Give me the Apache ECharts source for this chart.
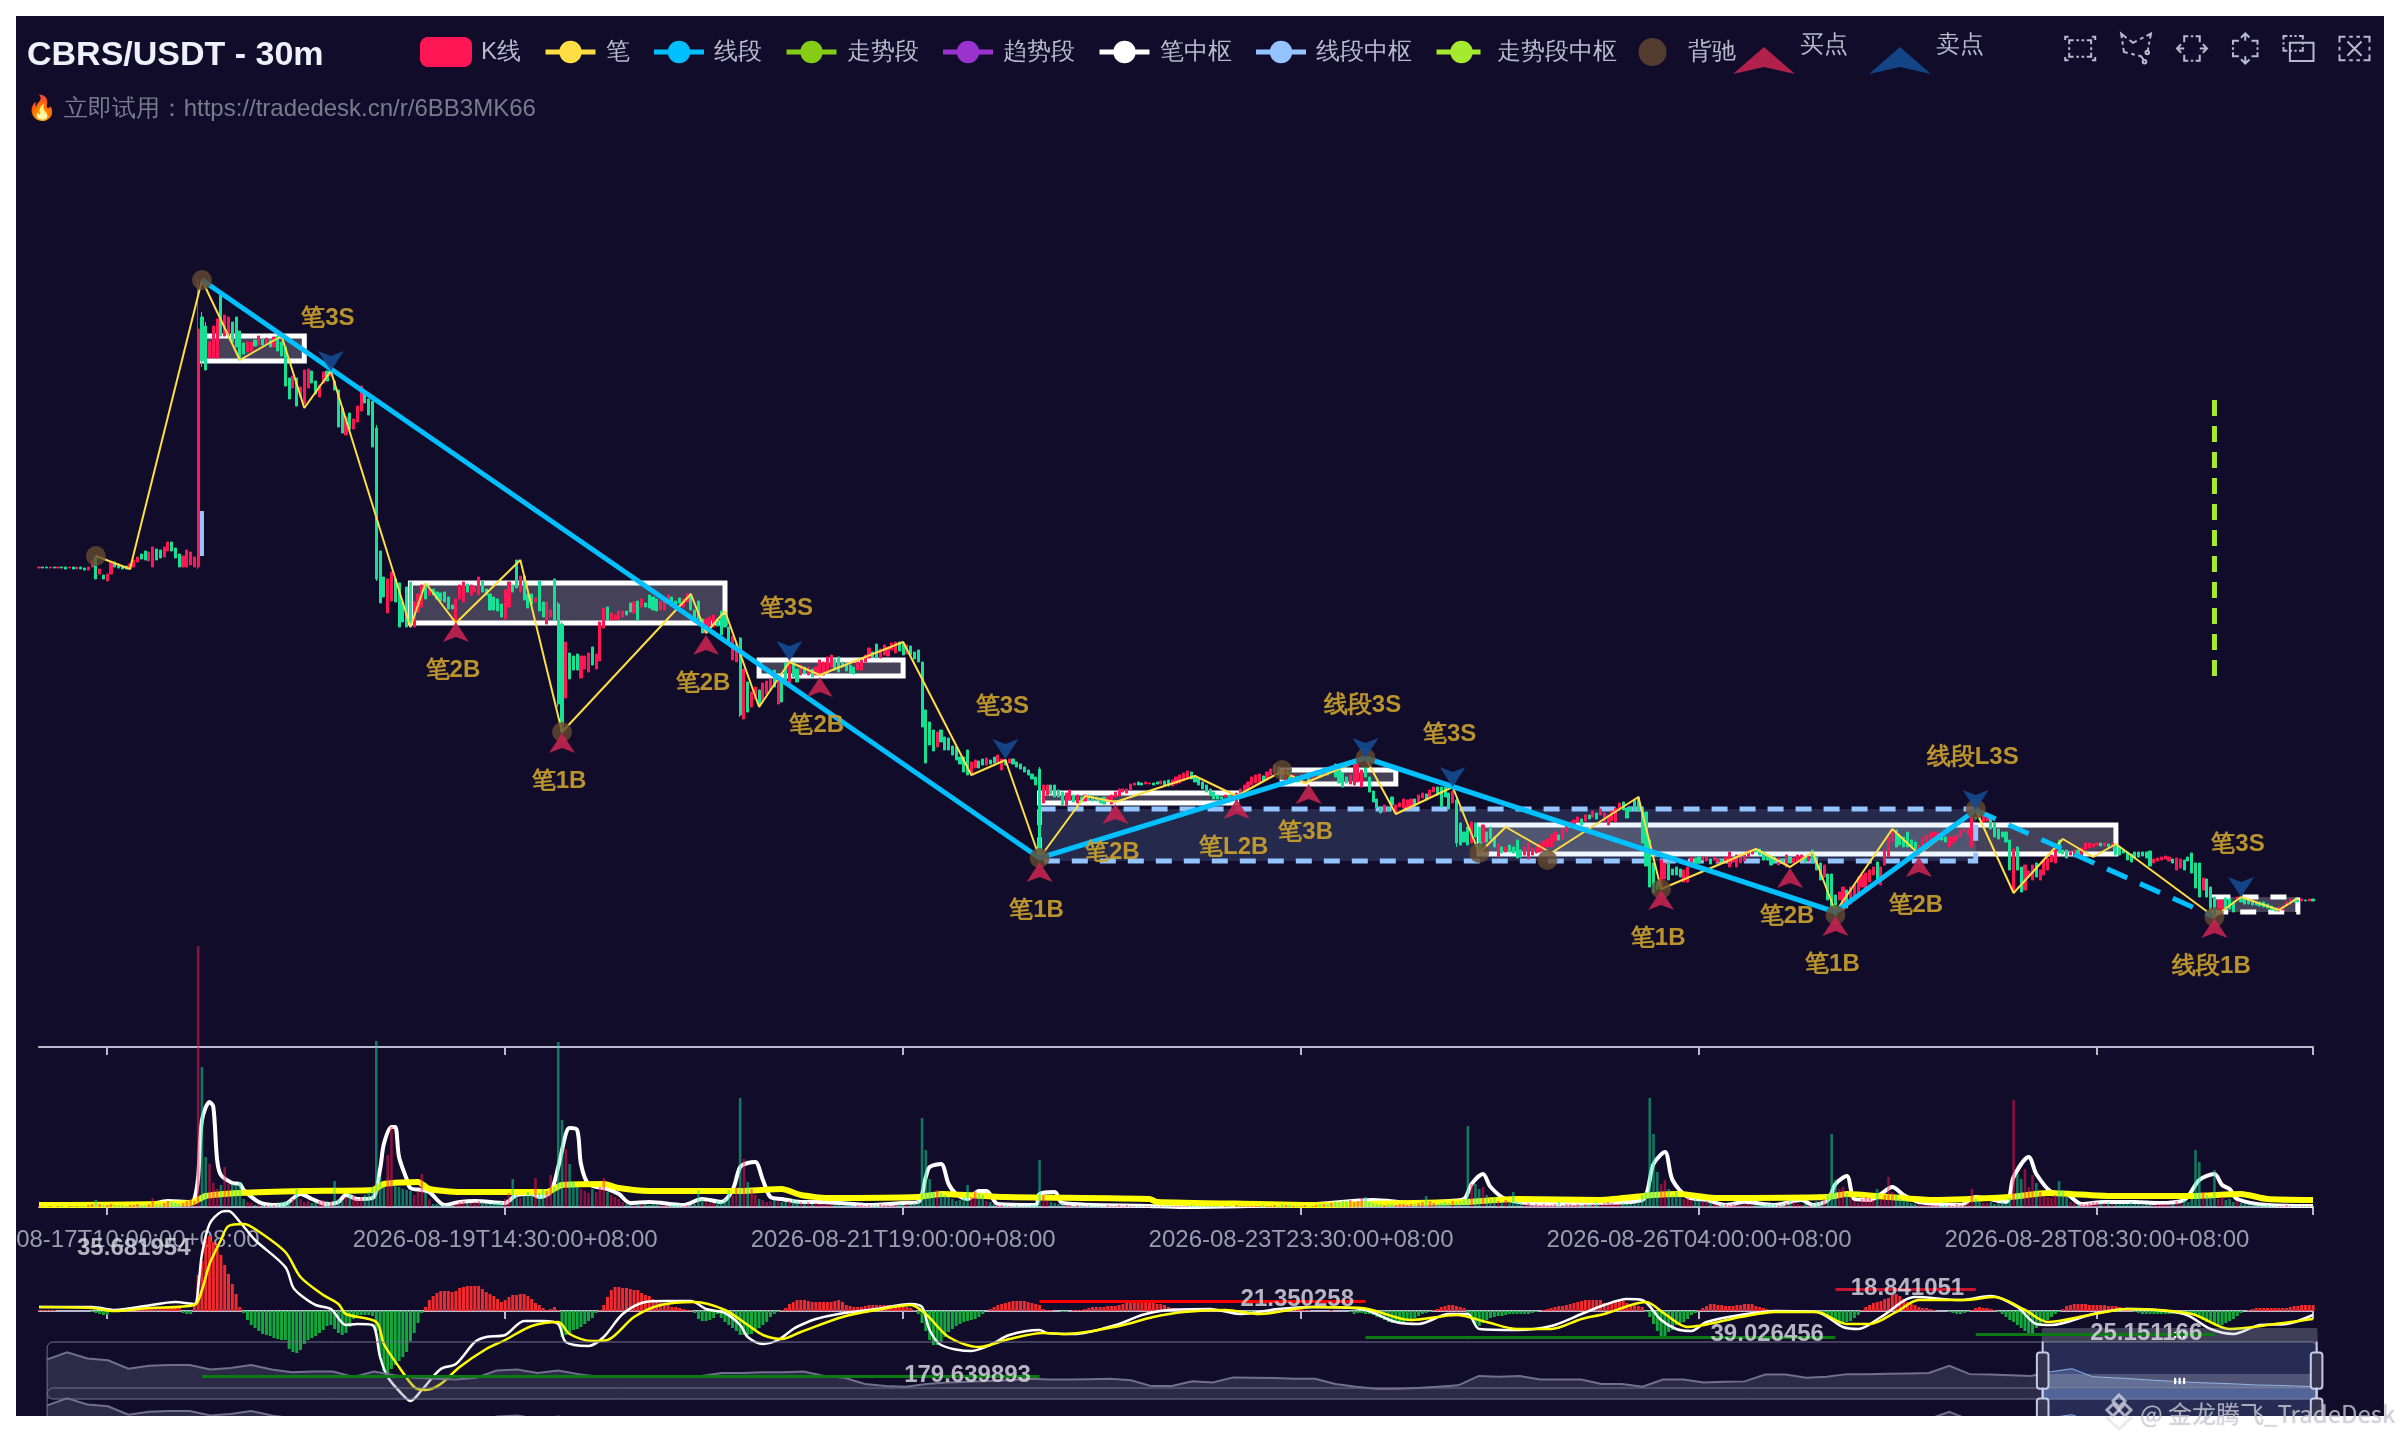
<!DOCTYPE html>
<html><head><meta charset="utf-8">
<style>html,body{margin:0;padding:0;background:#fff;overflow:hidden}
#chart{position:absolute;left:16px;top:16px;width:2368px;height:1400px}
#wm{position:absolute;left:2104px;top:1393px;font:24px "Noto Sans CJK SC",sans-serif;color:rgba(225,225,235,.62);text-shadow:0 0 1px rgba(120,120,130,.55);white-space:nowrap;display:flex;align-items:center;gap:6px}
</style>
<script src="https://cdn.jsdelivr.net/npm/echarts@6/dist/echarts.min.js"></script></head><body>
<div id="chart"></div>
<div id="wm"><svg width="30" height="38" viewBox="0 0 30 38"><g fill="none" stroke="rgba(225,225,235,.7)" stroke-width="3"><path d="M15 2l6 6-6 6-6-6z"/><path d="M6 11l6 6-6 6-6-6z" transform="translate(3 0)"/><path d="M24 11l-6 6 6 6 6-6z" transform="translate(-3 0)"/><path d="M2 24l13 12 13-12"/></g></svg><span>@ 金龙腾飞_TradeDesk</span></div>
<script>
const titleText='CBRS/USDT - 30m';
const subText='🔥 立即试用：https://tradedesk.cn/r/6BB3MK66';
const tickIndex=[18,123,228,333,438,543];
const lastTick=600;
const tickLabels=['2026-08-17T10:00:00+08:00','2026-08-19T14:30:00+08:00','2026-08-21T19:00:00+08:00','2026-08-23T23:30:00+08:00','2026-08-26T04:00:00+08:00','2026-08-28T08:30:00+08:00'];
const openClose=[
479,480,480,479,480,479,479,480,480,479,479,480,480,479,480,478,479,480,480,478,
478,480,480,478,479,477,477,480,480,487,491,468,473,478,472,468,466,473,473,484,
485,480,483,479,481,478,481,478,478,483,480,487,485,490,493,488,496,487,486,495,
480,500,498,487,497,489,490,500,496,505,505,496,499,489,493,480,480,491,480,497,
482,495,480,490,480,718,730,686,721,677,689,705,689,721,689,728,752,711,711,732,
711,730,725,705,730,700,716,687,704,693,695,705,696,705,707,701,702,711,708,702,
703,709,707,700,700,710,711,696,705,691,700,661,669,648,659,671,669,641,650,660,
643,677,659,678,676,664,666,653,650,662,664,675,676,666,671,680,666,657,657,620,
639,614,612,630,634,618,618,628,625,641,636,661,653,644,648,632,646,600,619,468,
496,444,470,450,434,468,446,475,468,445,464,420,445,425,460,420,465,420,420,445,
435,453,440,462,462,448,452,458,458,452,455,448,454,446,455,445,450,438,442,438,
425,448,448,462,445,465,463,455,452,462,455,460,452,470,466,455,458,452,453,437,
450,437,448,436,443,430,428,457,440,465,462,455,487,459,455,471,471,447,453,439,
453,443,445,449,466,436,445,430,423,445,430,437,468,427,443,343,423,315,349,405,
394,368,391,377,393,377,369,391,378,391,375,394,400,382,378,393,386,425,419,439,
440,427,427,434,427,432,428,436,430,436,436,432,444,435,434,445,446,427,440,448,
444,440,452,439,450,437,448,436,437,446,437,447,443,452,450,441,446,441,449,444,
440,448,445,453,453,437,437,425,446,428,428,414,414,428,420,430,420,432,428,421,
436,412,432,420,420,405,387,411,385,403,409,332,328,378,365,335,340,355,348,360,
357,341,346,364,353,366,357,368,377,360,343,368,366,345,384,364,364,385,385,370,
378,365,372,382,380,373,372,380,378,370,372,380,372,387,372,385,375,390,380,392,
388,377,390,375,385,380,383,376,382,374,380,373,377,385,377,387,385,392,389,399,
395,390,403,389,389,398,392,402,391,400,397,404,394,405,405,396,404,392,393,402,
401,392,395,388,397,385,385,320,337,284,325,302,317,296,300,315,317,305,310,297,
309,297,301,292,300,287,290,283,290,275,297,272,272,285,279,287,286,279,288,282,
282,289,287,283,290,284,285,292,277,288,287,282,284,288,288,283,285,280,283,278,
280,275,277,272,273,268,270,262,278,189,244,262,252,262,262,253,262,250,257,250,
255,242,242,254,247,257,252,245,244,252,250,245,246,252,252,247,251,246,250,246,
249,244,250,243,246,250,243,252,250,255,251,258,255,258,254,258,257,263,262,264,
265,262,264,262,263,265,263,264,264,262,265,263,263,266,266,262,267,261,261,267,
263,270,264,272,266,274,268,276,275,268,271,265,268,262,265,258,262,255,258,252,
255,248,252,248,250,248,250,252,252,245,248,252,246,254,250,258,255,262,258,265,
262,270,264,272,265,273,271,266,268,275,272,278,275,282,280,272,272,268,267,277,
277,267,268,272,270,265,267,272,268,271,270,266,266,273,270,276,276,270,272,278,
277,272,275,281,283,270,277,264,274,260,270,264,263,272,262,284,265,287,260,277,
280,270,270,255,256,245,248,239,240,234,235,242,240,236,250,242,234,242,240,244,
239,248,239,247,240,248,248,241,245,252,249,254,253,247,250,257,255,260,260,252,
260,240,260,250,254,238,244,256,247,204,224,202,215,205,220,202,204,225,224,210,
220,194,205,222,215,205,220,208,210,200,190,203,200,194,195,200,202,195,200,194,
207,189,197,190,192,200,188,204,192,199,194,200,195,203,197,206,200,208,200,212,
206,215,212,207,208,218,215,223,220,225,222,227,225,230,228,222,226,232,232,228,
230,236,234,228,232,238,225,234,222,232,226,236,225,239,237,244,245,237,239,229,
240,236,247,237,250,236,239,204,235,181,207,160,184,154,165,158,160,187,168,184,
185,167,178,172,180,172,178,170,165,177,165,180,180,190,189,183,190,184,187,190,
186,190,188,183,187,190,185,188,188,185,186,190,180,195,185,189,180,192,184,192,
186,192,190,197,193,197,198,195,198,192,195,187,192,187,190,182,190,185,182,189,
188,184,180,192,190,184,184,189,186,192,187,192,190,185,186,191,197,184,190,177,
184,167,170,182,173,147,173,139,152,132,147,155,137,160,157,139,143,160,147,162,
150,170,160,172,157,174,165,177,172,180,185,164,162,180,182,197,190,210,205,218,
217,200,212,202,210,200,215,200,207,200,205,198,192,202,197,210,205,212,206,214,
210,215,209,214,212,207,210,205,200,210,204,210,207,212,210,217,215,218,212,218,
200,237,230,228,235,228,225,232,226,232,232,218,224,210,218,208,215,210,215,205,
207,177,155,198,200,177,180,155,157,182,170,176,167,182,184,170,167,177,172,187,
177,189,185,192,184,200,207,194,197,193,197,189,192,195,190,197,197,191,189,199,
197,204,199,204,200,203,202,204,204,201,201,204,203,200,200,204,203,192,200,192,
197,194,195,187,193,185,195,189,195,190,195,191,195,189,196,181,184,188,186,189,
187,190,188,191,186,190,188,184,177,189,179,188,187,177,190,186,194,174,184,159,
184,150,157,169,168,150,160,134,150,131,137,147,135,147,149,139,148,138,145,135,
148,150,150,145,148,143,147,143,146,142,145,142,145,141,145,140,143,139,141,137,
139,136,136,140,137,141,141,145,143,148,148,145,147,145,146,148,147,146,146,148,
148,146];
const wicks={42:[478,767],43:[680,735],44:[677,725],89:[466,622],137:[340,445],138:[313,425],185:[330,410],264:[187,280],374:[200,250]};
const volumes=[
1,1,0,1,0,1,1,0,1,1, 1,1,1,2,3,7,3,2,2,3, 2,2,2,1,2,2,3,2,2,3, 9,3,3,4,6,5,4,3,4,6,
8,6,261,140,50,43,24,18,22,40, 23,23,22,25,8,5,4,2,3,2, 2,2,2,3,5,6,6,8,18,8, 5,6,4,5,6,7,6,5,26,8,
7,10,13,11,8,10,12,15,20,166, 30,20,52,80,22,20,18,17,16,12, 15,33,14,8,3,3,2,2,1,2, 3,5,6,4,4,5,6,5,4,3,
4,4,5,8,14,28,12,9,10,15, 12,29,14,18,16,32,20,165,87,58, 43,25,20,18,16,14,18,15,20,29, 15,12,10,8,5,3,2,2,3,3,
3,2,3,3,2,2,1,2,2,2, 1,2,2,3,17,8,6,4,4,6, 5,8,17,12,20,109,48,25,18,12, 8,7,5,6,7,6,5,5,6,8,
6,5,4,5,3,4,3,2,3,2, 2,2,1,2,2,1,2,2,1,2, 2,2,3,2,2,1,2,3,2,3, 3,4,6,89,57,28,15,17,14,12,
10,8,6,7,9,22,10,16,14,12, 6,5,3,2,2,2,1,1,2,1, 1,1,2,2,47,12,6,5,4,3, 4,2,2,1,2,2,1,2,1,1,
1,1,2,1,1,2,1,2,1,1, 1,1,1,1,1,1,1,1,1,1, 1,1,1,1,2,1,1,1,1,1, 1,1,0,1,1,0,2,1,1,1,
1,1,1,2,1,1,2,1,3,2, 2,1,1,1,2,1,1,2,3,3, 3,4,5,5,6,6,7,5,6,9, 10,5,4,3,3,2,3,3,2,3,
3,2,3,3,4,5,11,6,4,3, 4,5,4,6,5,6,8,81,23,23, 18,20,12,8,10,6,5,7,4,15, 5,4,3,4,2,3,2,3,2,2,
3,5,2,3,3,2,3,2,3,3, 3,4,3,4,5,4,3,3,4,3, 3,4,5,12,15,109,73,35,23,27, 18,12,15,10,8,9,7,8,6,5,
6,5,3,2,3,3,2,3,2,2, 4,3,2,2,1,2,3,3,3,2, 3,4,6,5,3,2,3,2,3,6, 5,8,12,73,27,18,20,14,9,6,
4,8,10,9,7,18,8,12,30,15, 12,8,7,5,4,3,3,2,2,2, 2,2,1,2,2,1,3,2,2,4, 18,8,5,4,4,5,3,4,5,4,
9,107,33,28,38,20,32,24,15,10, 10,9,12,26,17,10,5,4,3,3, 3,4,5,5,4,4,5,3,3,3, 3,3,5,3,3,2,3,2,2,3,
3,3,2,3,6,4,7,5,8,57, 45,15,12,10,37,8,10,7,8,5, 6,4,3,2,3,2,2,1,2,1, 1,1,1,2,1,1,1,1,1,1, 1];
const macdHist=[
1,1,1,1,1,0,0,0,0,0, 0,0,0,0,-1,-2,-3,-4,-4,-1, 0,1,1,1,1,1,2,2,2,2, 2,3,3,3,3,3,3,3,-2,-3,
-3,5,36,50,74,75,69,66,56,46, 37,27,17,4,-2,-9,-14,-17,-20,-23, -24,-25,-27,-28,-29,-29,-38,-41,-42,-39,
-33,-29,-27,-25,-22,-19,-15,-14,-18,-22, -24,-22,-16,-8,-4,-4,-4,-4,-5,-20, -45,-60,-65,-58,-54,-50,-46,-41,-30,-22,
-12,-2,4,11,15,18,20,20,20,19, 20,23,24,25,25,25,25,22,19,17, 15,12,9,11,14,16,16,17,17,15, 12,8,6,3,1,2,4,1,-26,-24,
-22,-19,-18,-16,-13,-10,-7,-2,1,6, 14,21,24,24,23,23,22,21,21,18, 16,15,12,9,8,7,6,4,4,3, 2,1,1,-2,-8,-10,-10,-9,-7,-3,
-7,-11,-14,-17,-20,-24,-24,-24,-23,-20, -17,-14,-11,-6,-3,-1,1,3,7,9, 11,11,11,10,9,9,9,9,9,9, 10,11,9,6,5,4,4,4,5,6,
6,6,6,6,6,6,6,6,6,4, 3,1,-3,-12,-20,-29,-34,-34,-31,-26, -21,-18,-15,-13,-11,-10,-9,-8,-6,-3, 0,2,4,6,7,8,9,10,10,10,
10,9,8,7,6,2,1,1,0,0, -1,-1,0,1,1,1,2,3,4,4, 4,4,5,5,5,6,7,8,8,8, 8,8,8,8,8,7,7,6,4,3,
3,2,2,2,3,3,3,2,2,1, 1,0,0,-1,-2,-3,-4,-4,-4,-4, -3,-2,-1,0,1,2,3,3,3,3, 3,3,2,2,1,1,0,0,0,0,
0,1,0,0,0,0,-1,-3,-2,-2, -3,-3,-4,-6,-7,-9,-11,-12,-12,-11, -11,-10,-8,-7,-5,-3,-2,-1,1,2, 4,5,6,6,5,4,3,-3,-8,-13,
-15,-12,-9,-7,-6,-5,-5,-4,-3,-3, -3,-3,-3,-3,-2,-1,0,1,2,3, 4,5,5,6,7,8,9,10,11,11, 11,11,11,8,8,9,10,11,10,8,
7,6,5,4,-1,-6,-13,-20,-26,-25, -21,-19,-14,-12,-11,-8,-4,-2,1,3, 5,7,7,6,6,5,5,5,6,6, 7,7,7,5,4,3,2,1,0,0,
0,0,0,0,0,0,0,0,0,0, -1,-3,-5,-8,-11,-14,-13,-11,-10,-7, -4,1,4,6,8,9,10,12,13,16, 17,15,12,9,7,6,4,3,3,2,
1,0,0,0,-1,-2,-3,-3,-2,-1, 1,3,4,3,3,2,1,-1,-3,-6, -9,-11,-14,-17,-20,-23,-22,-17,-14,-11, -9,-6,-3,-1,2,5,6,7,7,7,
7,6,6,6,6,6,5,5,5,4, 3,2,1,-1,-2,-3,-3,-3,-3,-3, -3,-3,-3,-3,-3,-2,-2,-3,-4,-5, -7,-9,-11,-12,-13,-14,-14,-12,-10,-8,
-5,-2,0,1,2,3,3,3,3,3, 3,3,3,3,4,5,5,6,6,6, 6];
const biPoints=[[15,491],[24,478],[43,767],[53,687],[64,711],[70,639],[77,676],[98,420],[102,464],[110,424],[127,487],[138,315],[172,453],[176,414],[181,436],[190,340],[198,385],[206,372],[228,405],[246,272],[255,287],[264,189],[276,251],[284,245],[305,271],[316,251],[328,276],[334,264],[350,289],[358,233],[373,260],[380,194],[387,220],[399,194],[422,250],[428,158],[453,198],[462,180],[468,195],[474,135],[489,218],[496,193],[511,237],[521,154],[534,208],[542,190],[548,203],[574,130],[581,150],[591,137],[596,149]];
const segPoints=[[43,767],[264,189],[350,289],[474,135],[511,237]];
const segDashed=[[511,237],[574,130]];
const biCenters=[[43,70,686,711],[98,181,424,464],[190,228,371,387],[264,316,244,254],[328,358,263,277],[380,548,193,222]];
const biCenterDashed=[[574,596,135,150]];
const segCenters=[[264,511,186,238]];
const segCenterThin=[[43,43,491,536]];
const trendCenters=[[574,574,366,647]];
const divergence=[[15,491],[43,767],[138,315],[264,189],[328,277],[350,289],[380,194],[398,187],[428,158],[474,132],[511,238],[574,130]];
const buyIndex=[110,138,176,206,264,284,316,335,428,462,474,496,574];
const buyValue=[425,314,412,370,185,243,248,263,157,179,131,190,129];
const buyLabel=['笔2B','笔1B','笔2B','笔2B','笔1B','笔2B','笔L2B','笔3B','笔1B','笔2B','笔1B','笔2B','线段1B'];
const sellIndex=[77,198,255,350,373,511,581];
const sellValue=[676,386,288,289,260,237,150];
const sellLabel=['笔3S','笔3S','笔3S','线段3S','笔3S','线段L3S','笔3S'];
const volMaFast=[[0,1],[20,2],[28,2],[34,6],[40,5],[41,8],[42,30],[43,87],[45,105],[46,100],[47,47],[48,32],[51,24],[53,23],[54,17],[58,5],[62,2],[65,3],[69,13],[72,8],[76,3],[79,5],[81,12],[84,8],[88,9],[90,38],[91,63],[93,80],[94,80],[95,50],[97,28],[98,19],[101,17],[103,15],[107,2],[111,5],[115,6],[123,4],[126,12],[130,13],[132,10],[135,15],[137,40],[139,73],[140,79],[142,77],[143,43],[145,23],[150,18],[153,13],[156,4],[161,5],[170,2],[175,8],[180,5],[183,17],[185,40],[187,44],[189,45],[191,27],[193,10],[196,8],[201,5],[205,5],[215,3],[219,2],[228,4],[232,5],[234,30],[235,40],[238,43],[240,23],[242,13],[245,8],[248,16],[250,16],[253,3],[263,2],[264,13],[268,15],[270,4],[293,1],[302,0],[336,3],[352,7],[363,4],[372,6],[376,8],[378,23],[381,33],[383,20],[387,8],[397,3],[412,4],[423,7],[426,43],[429,55],[431,27],[435,10],[440,7],[445,2],[450,5],[458,2],[465,7],[468,2],[472,7],[474,23],[477,31],[479,8],[483,7],[486,13],[489,20],[492,12],[496,5],[507,2],[511,10],[519,5],[521,30],[525,50],[527,33],[531,15],[535,13],[539,3],[545,5],[553,5],[559,4],[566,7],[570,27],[574,33],[576,22],[578,18],[580,8],[588,2],[600,1]];
const volMaSlow=[[0,2],[40,4],[44,11],[53,14],[70,16],[88,17],[91,23],[100,25],[103,18],[111,15],[134,15],[138,22],[149,23],[153,19],[161,16],[185,16],[196,18],[201,12],[208,9],[232,10],[238,13],[255,10],[293,8],[295,5],[322,3],[336,2],[350,3],[376,5],[390,8],[412,7],[426,12],[433,13],[442,9],[472,10],[477,13],[488,10],[499,7],[520,10],[530,14],[547,11],[568,11],[581,13],[588,8],[600,7]];
const difPoints=[[0,4],[14,4],[20,1],[28,5],[36,9],[41,7],[42,24],[43,57],[45,87],[48,99],[50,100],[53,89],[57,71],[65,44],[67,24],[69,16],[73,6],[77,2],[81,-14],[84,-13],[88,-14],[90,-46],[92,-66],[96,-84],[98,-90],[101,-79],[106,-58],[110,-53],[115,-31],[118,-26],[123,-24],[128,-10],[133,-10],[137,-13],[139,-31],[145,-35],[149,-26],[154,-3],[160,9],[165,10],[172,10],[176,2],[181,-2],[185,-14],[187,-26],[191,-33],[195,-29],[199,-18],[201,-14],[205,-8],[211,-3],[221,2],[230,7],[233,4],[235,-19],[238,-34],[246,-40],[251,-34],[256,-24],[264,-19],[266,-22],[273,-23],[285,-13],[291,-4],[298,1],[309,2],[317,-3],[327,2],[336,4],[349,2],[358,-11],[364,-13],[372,-3],[377,-3],[380,-18],[390,-19],[399,-15],[407,-3],[413,6],[419,12],[423,11],[428,-9],[432,-18],[436,-20],[440,-11],[449,-4],[458,0],[469,-1],[476,-16],[480,-18],[486,-6],[495,14],[507,11],[515,15],[522,4],[527,-13],[531,-14],[542,-3],[551,2],[566,-3],[573,-18],[579,-23],[586,-14],[593,-13],[600,-4]];
const deaPoints=[[0,4],[14,3],[20,0],[29,3],[41,6],[43,21],[45,47],[48,71],[50,85],[54,87],[57,82],[65,59],[69,34],[75,16],[79,7],[81,-3],[89,-11],[91,-33],[95,-56],[99,-76],[102,-79],[106,-73],[111,-56],[118,-38],[123,-29],[130,-15],[137,-11],[140,-23],[146,-30],[150,-29],[157,-6],[164,6],[173,9],[181,1],[187,-14],[191,-24],[196,-28],[201,-21],[212,-6],[221,1],[230,6],[234,-3],[240,-26],[248,-36],[256,-28],[265,-22],[271,-23],[285,-15],[294,-6],[302,-1],[313,1],[322,-3],[336,4],[349,3],[362,-9],[374,-4],[382,-11],[390,-18],[399,-18],[407,-8],[413,-3],[424,9],[429,-3],[435,-16],[449,-6],[458,-1],[469,-1],[477,-13],[483,-13],[490,-1],[496,11],[508,11],[516,14],[524,1],[530,-11],[541,-4],[551,2],[568,-3],[578,-18],[590,-13],[600,-8]];
const peakLines=[[264,350,10,'#ff0000'],[43,264,-65,'#0b7a12'],[350,474,-26,'#0b7a12'],[474,511,22,'#c8142e'],[511,574,-23,'#0b7a12']];
const peakLabelIndex=[25,245,332,456,493,556];
const peakLabelValue=[63,-64,12,-23,23,-22];
const peakLabelText=['35.681954','179.639893','21.350258','39.026456','18.841051','25.151166'];
const sliderShadow=[115,135,118,113,90,98,100,100,88,92,100,88,80,82,82,67,82,72,65,62,60,65,85,88,78,85,75,68,70,70,68,68,70,78,78,80,80,82,
70,65,48,42,40,48,52,54,56,58,62,60,60,61,62,58,42,42,55,52,66,65,64,62,62,48,40,35,35,37,40,44,70,68,70,60,60,60,48,
48,40,60,60,52,54,55,74,74,65,68,75,75,76,77,78,98,75,74,72,70,82,90,68,65,62,58,55,52,50,48,45,44,42,40];

const N=601;
const pad=n=>String(n).padStart(2,'0');
const categories=Array.from({length:N},(_,i)=>{
  const d=new Date(Date.UTC(2026,7,17,1,0)+i*1800000);
  return `${d.getUTCFullYear()}-${pad(d.getUTCMonth()+1)}-${pad(d.getUTCDate())}T${pad(d.getUTCHours())}:${pad(d.getUTCMinutes())}:00+08:00`;
});
const candles=[];
for(let i=0;i*2<openClose.length;i++){
  const o=openClose[2*i],c=openClose[2*i+1],w=wicks[i];
  candles.push([o,c,w?w[0]:Math.min(o,c),w?w[1]:Math.max(o,c)]);
}
const UP='#ff1654',DOWN='#14e196',AXIS='#B9B8CE',GOLD='#c9a02c';
const tickOn=i=>tickIndex.includes(i)||i===lastTick;
const labelOn=i=>tickIndex.includes(i);
const xAxis=(g,showLabel)=>({type:'category',gridIndex:g,data:categories,boundaryGap:false,
  axisLine:{onZero:true,lineStyle:{color:AXIS,width:2}},
  axisTick:{show:true,interval:tickOn,length:8,lineStyle:{color:AXIS,width:2}},
  axisLabel:{show:showLabel,interval:labelOn,color:'#9c9bb0',fontSize:24,margin:21,hideOverlap:false},
  splitLine:{show:false}});
const yAxis=(g,min,max)=>({type:'value',gridIndex:g,min,max,show:false,splitLine:{show:false}});
const boxArea=(rows,color,border,type,width)=>({silent:true,label:{show:false},
  itemStyle:{color,borderColor:border,borderWidth:width,borderType:type},
  data:rows.map(r=>[{coord:[r[0],r[3]]},{coord:[r[1],r[2]]}])});
const lineS=(name,data,color,width,extra)=>Object.assign({name,type:'line',data,xAxisIndex:0,yAxisIndex:0,symbol:'circle',showSymbol:false,
  lineStyle:{color,width},itemStyle:{color},silent:true,z:3},extra||{});
const arrowUp='path://M0 -31L.01 -31L0 -31ZM31 0L62 27L31 20L0 27Z';
const gridBase={left:23,right:71,outerBoundsMode:'none'};
const option={
  animation:false,backgroundColor:'#100c2a',
  title:{text:titleText,subtext:subText,left:0,top:9,padding:[14,10,10,11],itemGap:24,
    textStyle:{color:'#EEF1FA',fontSize:34,fontWeight:'bold'},subtextStyle:{color:'#7b7a91',fontSize:24}},
  legend:[{left:399,top:16,itemWidth:50,itemHeight:28,itemGap:22,textStyle:{color:AXIS,fontSize:24,padding:[0,0,0,5]},lineStyle:{width:5},
    data:['K线','笔','线段','走势段','趋势段','笔中枢','线段中枢','走势段中枢','背驰']},
   {left:1717,top:0,padding:0,itemWidth:62,itemHeight:58,itemGap:21,textStyle:{color:AXIS,fontSize:24},
    data:[{name:'买点',icon:arrowUp},{name:'卖点',icon:arrowUp}]}],
  toolbox:{right:-3,top:0,itemSize:30,itemGap:21,iconStyle:{borderColor:AXIS,borderWidth:2},
    feature:{brush:{type:['rect','polygon','lineX','lineY','keep','clear']}}},
  brush:{toolbox:['rect','polygon','lineX','lineY','keep','clear'],xAxisIndex:0},
  grid:[Object.assign({top:84,height:947},gridBase),Object.assign({top:930,height:261},gridBase),Object.assign({top:1184,height:216},gridBase),{left:30,right:67,top:1326,height:58,outerBoundsMode:'none'}],
  xAxis:[xAxis(0,false),xAxis(1,true),xAxis(2,false),{type:'category',gridIndex:3,show:false,data:sliderShadow.map((_,i)=>i)}],
  yAxis:[yAxis(0,0,947),yAxis(1,0,261),yAxis(2,-105,111),yAxis(3,0,160)],
  dataZoom:[0,1].map(k=>({type:'slider',xAxisIndex:3,start:87.85,end:100,left:25,right:72,top:k?1358:1312,height:58,realtime:false,
    showDataShadow:true,showDetail:false,borderColor:'#71708A',borderRadius:6,backgroundColor:'rgba(47,69,84,0)',fillerColor:'rgba(135,175,274,0.2)',
    dataBackground:{lineStyle:{color:'#71708A',width:2,opacity:1},areaStyle:{color:'#71708A',opacity:.3}},
    selectedDataBackground:{lineStyle:{color:'#87AFE8',width:1},areaStyle:{color:'#87AFE8',opacity:.3}},
    handleStyle:{color:'#353450',borderColor:'#C5CBE3',borderWidth:2},
    moveHandleSize:14,moveHandleStyle:{color:'#B0B6C3',opacity:.3}})),
  series:[
    {name:'K线',type:'candlestick',data:candles,xAxisIndex:0,yAxisIndex:0,barWidth:2.6,large:false,progressive:0,silent:true,z:2,
      itemStyle:{color:UP,color0:DOWN,borderColor:UP,borderColor0:DOWN,borderWidth:1}},
    lineS('笔',biPoints,'#ffde43',2),
    lineS('线段',segPoints,'#00bfff',5,{z:4}),
    lineS('线段',segDashed,'#00bfff',5,{z:4,lineStyle:{color:'#00bfff',width:5,type:[22,14]}}),
    lineS('走势段',[],'#84cc16',5),
    lineS('趋势段',[],'#9a32cd',5),
    lineS('笔中枢',[],'#ffffff',5,{z:3,markArea:boxArea(biCenters,'rgba(255,255,255,.22)','#ffffff','solid',5)}),
    lineS('笔中枢',[],'#ffffff',5,{z:3,markArea:boxArea(biCenterDashed,'rgba(255,255,255,.22)','#ffffff',[16,12],5)}),
    lineS('线段中枢',[],'#94c4ff',5,{z:3,markArea:boxArea(segCenters,'rgba(148,196,255,.16)','#94c4ff',[16,12],5)}),
    lineS('线段中枢',[],'#94c4ff',5,{z:3,markArea:boxArea(segCenterThin,'rgba(148,196,255,.16)','#94c4ff','solid',4)}),
    lineS('走势段中枢',[],'#a5ea2e',5,{z:3,lineStyle:{color:'#a5ea2e',width:5,type:[44,6]},markArea:boxArea(trendCenters,'rgba(165,234,46,.15)','#a5ea2e',[16,10],5)}),
    {name:'背驰',type:'scatter',data:divergence,xAxisIndex:0,yAxisIndex:0,symbol:'circle',symbolSize:20,silent:true,z:5,itemStyle:{color:'#654a30',opacity:.8}},
    {name:'买点',type:'scatter',xAxisIndex:0,yAxisIndex:0,symbol:'path://M13 0L26 20L13 15L0 20Z',symbolSize:[26,20],symbolOffset:[0,10],silent:true,z:6,
      itemStyle:{color:'#c0234f',opacity:.92},
      label:{show:true,position:'inside',offset:[-3,38],formatter:'{b}',color:GOLD,fontSize:24,fontWeight:'bold'},
      data:buyIndex.map((x,i)=>({name:buyLabel[i],value:[x,buyValue[i]]}))},
    {name:'卖点',type:'scatter',xAxisIndex:0,yAxisIndex:0,symbol:'path://M0 0L13 5L26 0L13 20Z',symbolSize:[26,20],symbolOffset:[0,-10],silent:true,z:6,
      itemStyle:{color:'#134a8e',opacity:.92},
      label:{show:true,position:'inside',offset:[-3,-43],formatter:'{b}',color:GOLD,fontSize:24,fontWeight:'bold'},
      data:sellIndex.map((x,i)=>({name:sellLabel[i],value:[x,sellValue[i]]}))},
    {type:'line',name:'VOLMA5',data:volMaFast,xAxisIndex:1,yAxisIndex:1,smooth:.3,symbol:'none',silent:true,z:2,lineStyle:{color:'#ffffff',width:4}},
    {type:'line',name:'VOLMA20',data:volMaSlow,xAxisIndex:1,yAxisIndex:1,smooth:.2,symbol:'none',silent:true,z:2,lineStyle:{color:'#ffff00',width:6}},
    {type:'bar',name:'VOL',data:volumes,xAxisIndex:1,yAxisIndex:1,barWidth:2.6,silent:true,z:3,
      itemStyle:{opacity:.5,color:p=>{const c=candles[p.dataIndex];return c&&c[1]>=c[0]?UP:DOWN;}}},
    {type:'bar',name:'MACD',data:macdHist,xAxisIndex:2,yAxisIndex:2,barWidth:3,silent:true,z:2,
      itemStyle:{color:p=>p.value>=0?'#f02a2d':'#13a83c'}},
    {type:'line',name:'DIF',data:difPoints,xAxisIndex:2,yAxisIndex:2,smooth:.3,symbol:'none',silent:true,z:3,lineStyle:{color:'#ffffff',width:2.5}},
    {type:'line',name:'DEA',data:deaPoints,xAxisIndex:2,yAxisIndex:2,smooth:.3,symbol:'none',silent:true,z:3,lineStyle:{color:'#ffff00',width:2.5}},
    {type:'line',name:'PEAK',data:[],xAxisIndex:2,yAxisIndex:2,silent:true,z:4,
      markLine:{silent:true,symbol:'none',label:{show:false},data:peakLines.map(r=>[{coord:[r[0],r[2]],lineStyle:{color:r[3],width:3,type:'solid'}},{coord:[r[1],r[2]]}])}},
    {type:'scatter',name:'PEAKTEXT',xAxisIndex:2,yAxisIndex:2,symbolSize:1,silent:true,z:7,itemStyle:{color:'transparent'},
      label:{show:true,position:'inside',formatter:'{b}',color:'#dedee6',fontSize:24,fontWeight:'bold'},
      data:peakLabelIndex.map((x,i)=>({name:peakLabelText[i],value:[x,peakLabelValue[i]]}))},
    {type:'line',name:'SHADOW',data:sliderShadow,xAxisIndex:3,yAxisIndex:3,symbol:'none',silent:true,lineStyle:{opacity:0}}
  ]
};
echarts.init(document.getElementById('chart'),null,{width:2368,height:1400}).setOption(option);
</script></body></html>
